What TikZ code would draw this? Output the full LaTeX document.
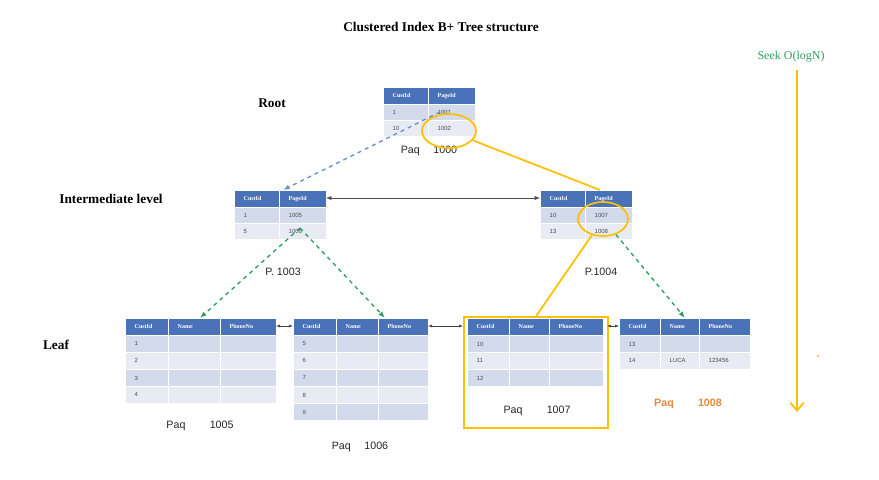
\documentclass[tikz,border=0pt]{standalone}
\usepackage{fontspec}
\setmainfont{Liberation Serif}
\newfontfamily\sansf{Liberation Sans}
\usetikzlibrary{arrows.meta,shapes.geometric}
\definecolor{hdr}{HTML}{4A72B8}
\definecolor{rowa}{HTML}{D3DAEC}
\definecolor{rowb}{HTML}{E8EBF4}
\definecolor{yel}{HTML}{FFC000}
\definecolor{grn}{HTML}{2E9E5E}
\definecolor{dblue}{HTML}{6F8FC4}
\definecolor{org}{HTML}{E8883A}
\tikzset{
 cellbox/.style={draw=white,line width=0.6pt,anchor=north west,inner sep=0pt,text depth=0pt,font=\sansf\fontsize{4.5}{5}\selectfont,text=black!70,align=left},
 hcell/.style={cellbox,fill=hdr,text=white,font=\bfseries\fontsize{4.5}{5}\selectfont},
 lbl/.style={font=\sansf\fontsize{8}{9}\selectfont,text=black!85},
 side/.style={font=\bfseries\fontsize{10}{12}\selectfont},
}
% \cel{x}{y}{w}{h}{style}{text}
\newcommand{\cel}[6]{\node[#5,minimum width=#3*0.75pt,minimum height=#4*0.75pt,text width=#3*0.75pt-6pt] at (#1,#2) {\hspace*{4pt}#6};}
\begin{document}
\begin{tikzpicture}[x=0.75pt,y=-0.75pt]
\useasboundingbox (0,0) rectangle (879,479);
\node[font=\bfseries\fontsize{10}{12}\selectfont] (title) at (441,27) {Clustered Index B+ Tree structure};
\node[side] (root) at (272,103) {Root};
\node[side] (inter) at (111,199) {Intermediate level};
\node[side] (leaf) at (56,345) {Leaf};
\node[font=\fontsize{9}{11}\selectfont,text=grn] (seek) at (791,57) {Seek O(logN)};
% root
\cel{383}{87}{45}{17}{hcell}{CustId}\cel{428}{87}{47}{17}{hcell}{PageId}
\cel{383}{104}{45}{16}{cellbox,fill=rowa}{1}\cel{428}{104}{47}{16}{cellbox,fill=rowa}{1001}
\cel{383}{120}{45}{16}{cellbox,fill=rowb}{10}\cel{428}{120}{47}{16}{cellbox,fill=rowb}{1002}
\node[lbl] (p1000) at (429,151) {Paq \quad 1000};
\coordinate (r1) at (440,112);
% intermediate left
\cel{234}{190}{45}{17}{hcell}{CustId}\cel{279}{190}{47}{17}{hcell}{PageId}
\cel{234}{207}{45}{16}{cellbox,fill=rowa}{1}\cel{279}{207}{47}{16}{cellbox,fill=rowa}{1005}
\cel{234}{223}{45}{16}{cellbox,fill=rowb}{5}\cel{279}{223}{47}{16}{cellbox,fill=rowb}{1006}
\node[lbl] (p1003) at (283,272) {P. 1003};
\coordinate (il) at (283,190);\coordinate (ilr) at (326,198);\coordinate (ilb) at (300,228);
% intermediate right
\cel{540}{190}{45}{17}{hcell}{CustId}\cel{585}{190}{47}{17}{hcell}{PageId}
\cel{540}{207}{45}{16}{cellbox,fill=rowa}{10}\cel{585}{207}{47}{16}{cellbox,fill=rowa}{1007}
\cel{540}{223}{45}{16}{cellbox,fill=rowb}{13}\cel{585}{223}{47}{16}{cellbox,fill=rowb}{1008}
\node[lbl] (p1004) at (601,272) {P.1004};
\coordinate (ir) at (600,190);\coordinate (irl) at (540,198);
% leaf 1
\cel{125}{318}{43}{17}{hcell}{CustId}\cel{168}{318}{52}{17}{hcell}{Name}\cel{220}{318}{56}{17}{hcell}{PhoneNo}
\foreach \r/\t/\c in {0/1/rowa,1/2/rowb,2/3/rowa,3/4/rowb}{
 \cel{125}{335+\r*17}{43}{17}{cellbox,fill=\c}{\t}\cel{168}{335+\r*17}{52}{17}{cellbox,fill=\c}{}\cel{220}{335+\r*17}{56}{17}{cellbox,fill=\c}{}}
\node[lbl] (p1005) at (200,426) {Paq \qquad 1005};
% leaf 2
\cel{293}{318}{43}{17}{hcell}{CustId}\cel{336}{318}{42}{17}{hcell}{Name}\cel{378}{318}{50}{17}{hcell}{PhoneNo}
\foreach \r/\t/\c in {0/5/rowa,1/6/rowb,2/7/rowa,3/8/rowb,4/9/rowa}{
 \cel{293}{335+\r*17}{43}{17}{cellbox,fill=\c}{\t}\cel{336}{335+\r*17}{42}{17}{cellbox,fill=\c}{}\cel{378}{335+\r*17}{50}{17}{cellbox,fill=\c}{}}
\node[lbl] (p1006) at (360,447) {Paq \quad 1006};
% leaf 3
\cel{467}{318}{42}{17}{hcell}{CustId}\cel{509}{318}{40}{17}{hcell}{Name}\cel{549}{318}{54}{17}{hcell}{PhoneNo}
\foreach \r/\t/\c in {0/10/rowa,1/11/rowb,2/12/rowa}{
 \cel{467}{335+\r*17}{42}{17}{cellbox,fill=\c}{\t}\cel{509}{335+\r*17}{40}{17}{cellbox,fill=\c}{}\cel{549}{335+\r*17}{54}{17}{cellbox,fill=\c}{}}
\node[lbl] (p1007) at (537,411) {Paq \qquad 1007};
\node[draw=yel,line width=1.8pt,minimum width=144*0.75pt,minimum height=111*0.75pt,anchor=north west] (box7) at (463,316) {};
% leaf 4
\cel{619}{318}{41}{17}{hcell}{CustId}\cel{660}{318}{39}{17}{hcell}{Name}\cel{699}{318}{51}{17}{hcell}{PhoneNo}
\cel{619}{335}{41}{17}{cellbox,fill=rowa}{13}\cel{660}{335}{39}{17}{cellbox,fill=rowa}{}\cel{699}{335}{51}{17}{cellbox,fill=rowa}{}
\cel{619}{352}{41}{17}{cellbox,fill=rowb}{14}\cel{660}{352}{39}{17}{cellbox,fill=rowb}{LUCA}\cel{699}{352}{51}{17}{cellbox,fill=rowb}{123456}
\node[lbl,text=org,font=\sansf\bfseries\fontsize{8}{9}\selectfont] (p1008) at (688,404) {Paq \qquad 1008};
% circles
\node[draw=yel,line width=1.3pt,ellipse,minimum width=54*0.75pt,minimum height=34*0.75pt,inner sep=0pt] (c1) at (449,131) {};
\node[draw=yel,line width=1.3pt,ellipse,minimum width=50*0.75pt,minimum height=34*0.75pt,inner sep=0pt] (c2) at (603,219) {};
% connectors
\coordinate (l1t) at (200,318);\coordinate (l2t) at (385,318);\coordinate (l4t) at (685,318);
\draw[dblue,dashed,line width=1pt,-{Latex[length=5pt]}] (r1) -- (il);
\draw[yel,line width=1.3pt] (c1) -- (ir);
\draw[black!70,{Latex[length=4pt]}-{Latex[length=4pt]}] (ilr) -- (irl);
\draw[grn,dashed,line width=1pt,-{Latex[length=5pt]}] (ilb) -- (l1t);
\draw[grn,dashed,line width=1pt,-{Latex[length=5pt]}] (ilb) -- (l2t);
\draw[yel,line width=1.3pt] (c2) -- (box7.north);
\draw[grn,dashed,line width=1pt,-{Latex[length=5pt]}] (c2) -- (l4t);
\coordinate (a1) at (276,326);\coordinate (a2) at (293,326);
\coordinate (a3) at (428,326);\coordinate (a4) at (463,326);
\coordinate (a5) at (607,326);\coordinate (a6) at (619,326);
\foreach \p/\q in {a1/a2,a3/a4,a5/a6}\draw[black!75,{Latex[length=3pt]}-{Latex[length=3pt]}] (\p) -- (\q);
\coordinate (s1) at (797,70);\coordinate (s2) at (797,412);
\draw[yel,line width=1.3pt,-{Straight Barb[length=6pt,width=10pt]}] (s1) -- (s2);
\fill[yel] (818,356) circle (1.2);
\end{tikzpicture}
\end{document}
